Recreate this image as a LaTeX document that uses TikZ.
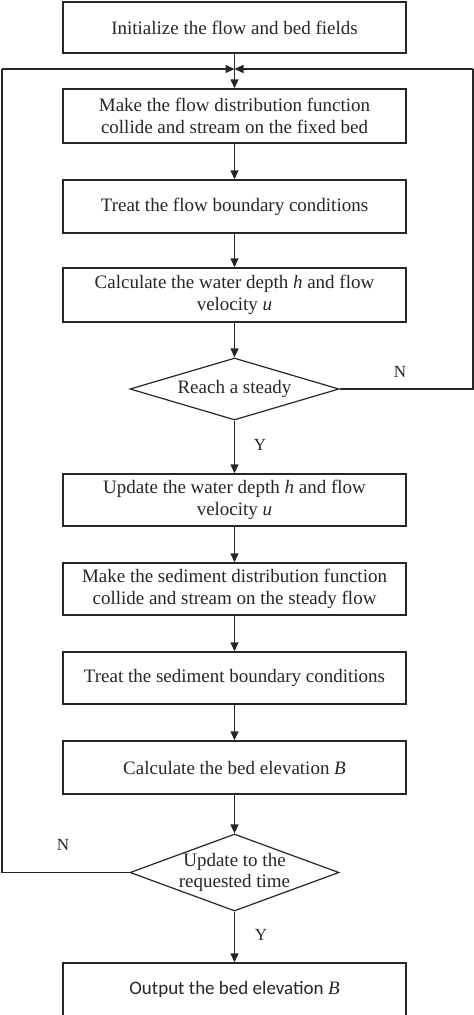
\documentclass[tikz,border=0pt]{standalone}
\usepackage{fontspec}
\setmainfont{Liberation Serif}
\newfontfamily\outfont{Carlito}
\usetikzlibrary{shapes.geometric,arrows.meta}
\definecolor{ink}{HTML}{262626}
\tikzset{
  box/.style={draw=ink, line width=1.5pt, minimum width=343pt, minimum height=53pt, inner sep=0pt, align=center, text=ink,
    font=\fontsize{19}{21.7}\selectfont},
  dia/.style={draw=ink, line width=1.2pt, diamond, minimum width=209pt, minimum height=62pt, inner sep=0pt},
  dtext/.style={align=center, text=ink, font=\fontsize{19}{21.7}\selectfont, inner sep=0pt},
  lab/.style={text=ink, font=\fontsize{17}{20}\selectfont, inner sep=0pt},
  arr/.style={draw=ink, line width=1.5pt, -{Triangle[length=9pt,width=8pt]}},
  ln/.style={draw=ink, line width=1.5pt}
}
\begin{document}
\begin{tikzpicture}[x=1pt,y=-1pt]
\useasboundingbox (0,0) rectangle (474,1015);
\node[box, minimum height=51pt] (b1) at (234.5,27.5) {Initialize the flow and bed fields};
\node[box, minimum height=54pt] (b2) at (234.5,116) {Make the flow distribution function\\collide and stream on the fixed bed};
\node[box] (b3) at (234.5,206.5) {Treat the flow boundary conditions};
\node[box, minimum height=54pt] (b4) at (234.5,295) {Calculate the water depth \textit{h} and flow\\velocity \textit{u}};
\node[dia] (d1) at (234.5,389) {};
\node[dtext] (d1t) at (234.5,389) {Reach a steady};
\node[box, minimum height=52pt] (b5) at (234.5,500) {Update the water depth \textit{h} and flow\\velocity \textit{u}};
\node[box, minimum height=52pt] (b6) at (234.5,589) {Make the sediment distribution function\\collide and stream on the steady flow};
\node[box, minimum height=52pt] (b7) at (234.5,678) {Treat the sediment boundary conditions};
\node[box] (b8) at (234.5,767.5) {Calculate the bed elevation \textit{B}};
\node[dia, minimum height=77pt] (d2) at (234.5,872.5) {};
\node[dtext] (d2t) at (234.5,872.5) {Update to the\\requested time};
\node[box] (b9) at (234.5,989.5) {\outfont Output the bed elevation \textit{\rmfamily B}};

\coordinate (j) at (234.5,69);
\coordinate (jl) at (2,69);
\coordinate (jr) at (473,69);
\coordinate (rl) at (473,389);
\coordinate (ll) at (2,872.5);

\draw[arr] (b1) -- (b2);
\draw[arr] (b2) -- (b3);
\draw[arr] (b3) -- (b4);
\draw[arr] (b4) -- (d1.north);
\draw[arr] (d1.south) -- (b5);
\draw[arr] (b5) -- (b6);
\draw[arr] (b6) -- (b7);
\draw[arr] (b7) -- (b8);
\draw[arr] (b8) -- (d2.north);
\draw[arr] (d2.south) -- (b9);

\draw[ln] (d1.east) -- (rl) -- (jr);
\draw[arr] (jr) -- (j);
\draw[ln] (d2.west) -- (ll) -- (jl);
\draw[arr] (jl) -- (j);

\node[lab] (n1) at (400,372) {N};
\node[lab] (y1) at (260,445) {Y};
\node[lab] (n2) at (63,845) {N};
\node[lab] (y2) at (261,935) {Y};
\end{tikzpicture}
\end{document}
